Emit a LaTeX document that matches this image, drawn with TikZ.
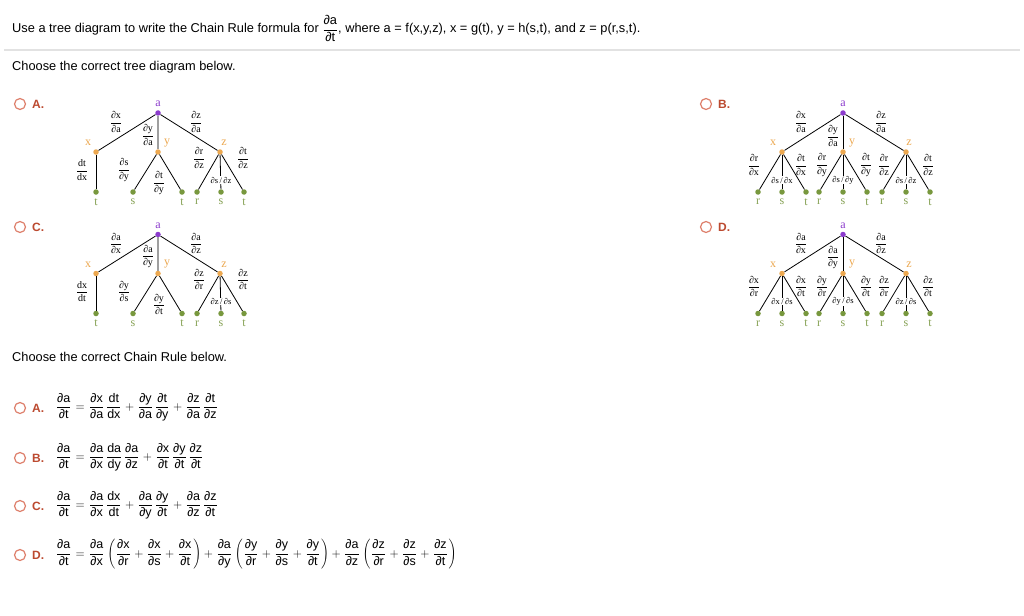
\documentclass[tikz,border=0pt]{standalone}
\usepackage{fontspec}
\setmainfont{Liberation Sans}
\newfontfamily\treefont{Liberation Serif}
\usetikzlibrary{positioning}

\definecolor{rootpurple}{RGB}{140,60,205}
\definecolor{midorange}{RGB}{236,168,80}
\definecolor{leafgreen}{RGB}{120,152,62}
\definecolor{leafolive}{RGB}{135,162,85}
\definecolor{radiored}{RGB}{222,128,108}
\definecolor{letterred}{RGB}{188,74,48}
\definecolor{rulegray}{RGB}{226,226,226}

% partial fraction with text glyphs
\newcommand{\pd}[2]{\frac{\hbox{#1}}{\hbox{#2}}}
\newcommand{\tpd}[2]{$\displaystyle\frac{\hbox{#1}}{\hbox{#2}}$}

\tikzset{
  vdot/.style={circle, inner sep=0pt, minimum size=5.5pt},
  rootdot/.style={vdot, fill=rootpurple},
  middot/.style={vdot, fill=midorange},
  leafdot/.style={vdot, fill=leafgreen},
  twig/.style={draw=black, line width=0.8pt},
  trunk/.style={draw=gray!75, line width=1.8pt},
  vlabel/.style={font=\treefont\fontsize{12}{13}\selectfont, inner sep=0pt},
  elabel/.style={font=\treefont\fontsize{10}{11}\selectfont, inner sep=0.5pt},
  ilabel/.style={font=\treefont\fontsize{8.5}{9}\selectfont, inner sep=0.5pt, fill=white},
  radio/.style={circle, draw=radiored, line width=1.2pt, minimum size=11pt, inner sep=0pt},
  choice/.style={font=\bfseries\fontsize{12}{12}\selectfont, text=letterred, anchor=west, inner sep=0pt},
  question/.style={font=\fontsize{12.8}{14}\selectfont, anchor=west, inner sep=0pt},
  formula/.style={font={\fontsize{12.5}{13}\selectfont\nulldelimiterspace=2pt\relax}, anchor=west, inner sep=0pt},
}

% skeleton of trees A and C
\newcommand{\lefttree}{%
  \node[rootdot] (a) at (158,113) {};
  \node[middot] (x) at (96,152) {};
  \node[middot] (y) at (158,152) {};
  \node[middot] (z) at (220,152) {};
  \node[leafdot] (xt) at (96,192) {};
  \node[leafdot] (ys) at (133,192) {};
  \node[leafdot] (yt) at (182,192) {};
  \node[leafdot] (zr) at (197,192) {};
  \node[leafdot] (zs) at (221,192) {};
  \node[leafdot] (zt) at (244,192) {};
  \draw[twig] (a) -- (x);
  \draw[trunk] (a) -- (y);
  \draw[twig] (a) -- (z);
  \draw[twig] (x) -- (xt);
  \draw[twig] (y) -- (ys) (y) -- (yt);
  \draw[twig] (z) -- (zr) (z) -- (zs) (z) -- (zt);
  \node[vlabel, text=rootpurple] (a-lab) at (158,104) {a};
  \node[vlabel, text=midorange] (x-lab) at (88,143) {x};
  \node[vlabel, text=midorange] (y-lab) at (167,143) {y};
  \node[vlabel, text=midorange] (z-lab) at (224,143) {z};
  \foreach \f/\fx [count=\i] in {t/96, s/133, t/182, r/197, s/221, t/244}
    \node[vlabel, text=leafolive] (leaf\i) at (\fx,202) {\f};
}

% skeleton of trees B and D
\newcommand{\righttree}{%
  \node[rootdot] (a) at (843,113) {};
  \node[vlabel, text=rootpurple] (a-lab) at (843,104) {a};
  \foreach \m/\mx/\lx in {x/782/773, y/843/852, z/906/909} {
    \node[middot] (\m) at (\mx,152) {};
    \node[vlabel, text=midorange] (\m-lab) at (\lx,143) {\m};
    \draw[twig] (a) -- (\m);
    \foreach \f/\dx in {r/-24, s/0, t/24} {
      \node[leafdot] (\m\f) at ({\mx+\dx},192) {};
      \node[vlabel, text=leafolive] (\m\f-lab) at ({\mx+\dx},202) {\f};
      \draw[twig] (\m) -- (\m\f);
    }
  }
}

\begin{document}
\begin{tikzpicture}[x=1pt, y=-1pt]
  \fill[white] (0,0) rectangle (1024,615);
  \useasboundingbox (0,0) rectangle (1024,615);

  \node[question, anchor=base west] (ask) at (12,33) {Use a tree diagram to write the Chain Rule formula for $\displaystyle\pd{∂a}{∂t}$, where a = f(x,y,z), x = g(t), y = h(s,t), and z = p(r,s,t).};
  \draw[rulegray, line width=1.5pt] (4,50) -- (1020,50);
  \node[question] (pick1) at (12,67) {Choose the correct tree diagram below.};

  % answer marks for the trees
  \node[radio] (ra) at (20,104) {};
  \node[choice] (la) at (32,104) {A.};
  \node[radio] (rb) at (706,104) {};
  \node[choice] (lb) at (718,104) {B.};
  \node[radio] (rc) at (20,227) {};
  \node[choice] (lc) at (32,227) {C.};
  \node[radio] (rd) at (706,227) {};
  \node[choice] (ld) at (718,227) {D.};

  % tree A
  \begin{scope}[name prefix=A-]
    \lefttree
    \node[elabel] (xa) at (116,122) {\tpd{∂x}{∂a}};
    \node[elabel] (ya) at (148,135) {\tpd{∂y}{∂a}};
    \node[elabel] (za) at (196,122) {\tpd{∂z}{∂a}};
    \node[elabel] (tx) at (82,170) {\tpd{dt}{dx}};
    \node[elabel] (sy) at (124,170) {\tpd{∂s}{∂y}};
    \node[elabel] (ty) at (159,183) {\tpd{∂t}{∂y}};
    \node[elabel] (rz) at (199,158) {\tpd{∂r}{∂z}};
    \node[ilabel] (sz) at (221,180) {∂s\,/\,∂z};
    \node[elabel] (tz) at (243,158) {\tpd{∂t}{∂z}};
  \end{scope}

  % tree B
  \begin{scope}[name prefix=B-]
    \righttree
    \node[elabel] (xa) at (801,122) {\tpd{∂x}{∂a}};
    \node[elabel] (ya) at (833,136) {\tpd{∂y}{∂a}};
    \node[elabel] (za) at (881,122) {\tpd{∂z}{∂a}};
    \node[elabel] (rx) at (754,165) {\tpd{∂r}{∂x}};
    \node[ilabel] (sx) at (782,180) {∂s\,/\,∂x};
    \node[elabel] (tx) at (801,165) {\tpd{∂t}{∂x}};
    \node[elabel] (ry) at (822,165) {\tpd{∂r}{∂y}};
    \node[ilabel] (sy) at (843,180) {∂s\,/\,∂y};
    \node[elabel] (ty) at (866,165) {\tpd{∂t}{∂y}};
    \node[elabel] (rz) at (884,165) {\tpd{∂r}{∂z}};
    \node[ilabel] (sz) at (906,180) {∂s\,/\,∂z};
    \node[elabel] (tz) at (928,165) {\tpd{∂t}{∂z}};
  \end{scope}

  % tree C
  \begin{scope}[shift={(0,121.5)}, name prefix=C-]
    \lefttree
    \node[elabel] (ax) at (116,122) {\tpd{∂a}{∂x}};
    \node[elabel] (ay) at (148,135) {\tpd{∂a}{∂y}};
    \node[elabel] (az) at (196,122) {\tpd{∂a}{∂z}};
    \node[elabel] (xt) at (82,170) {\tpd{dx}{dt}};
    \node[elabel] (ys) at (124,170) {\tpd{∂y}{∂s}};
    \node[elabel] (yt) at (159,183) {\tpd{∂y}{∂t}};
    \node[elabel] (zr) at (199,158) {\tpd{∂z}{∂r}};
    \node[ilabel] (zs) at (221,180) {∂z\,/\,∂s};
    \node[elabel] (zt) at (243,158) {\tpd{∂z}{∂t}};
  \end{scope}

  % tree D
  \begin{scope}[shift={(0,121.5)}, name prefix=D-]
    \righttree
    \node[elabel] (ax) at (801,122) {\tpd{∂a}{∂x}};
    \node[elabel] (ay) at (833,136) {\tpd{∂a}{∂y}};
    \node[elabel] (az) at (881,122) {\tpd{∂a}{∂z}};
    \node[elabel] (xr) at (754,165) {\tpd{∂x}{∂r}};
    \node[ilabel] (xs) at (782,180) {∂x\,/\,∂s};
    \node[elabel] (xt) at (801,165) {\tpd{∂x}{∂t}};
    \node[elabel] (yr) at (822,165) {\tpd{∂y}{∂r}};
    \node[ilabel] (ys) at (843,180) {∂y\,/\,∂s};
    \node[elabel] (yt) at (866,165) {\tpd{∂y}{∂t}};
    \node[elabel] (zr) at (884,165) {\tpd{∂z}{∂r}};
    \node[ilabel] (zs) at (906,180) {∂z\,/\,∂s};
    \node[elabel] (zt) at (928,165) {\tpd{∂z}{∂t}};
  \end{scope}

  \node[question] (pick2) at (12,357) {Choose the correct Chain Rule below.};

  % answer marks for the formulas
  \node[radio] (rfa) at (20,408) {};
  \node[choice] (lfa) at (32,408) {A.};
  \node[formula] (fa) at (55,407) {$\displaystyle \pd{∂a}{∂t} = \pd{∂x}{∂a}\pd{dt}{dx} + \pd{∂y}{∂a}\pd{∂t}{∂y} + \pd{∂z}{∂a}\pd{∂t}{∂z}$};
  \node[radio] (rfb) at (20,458) {};
  \node[choice] (lfb) at (32,458) {B.};
  \node[formula] (fb) at (55,457) {$\displaystyle \pd{∂a}{∂t} = \pd{∂a}{∂x}\pd{da}{dy}\pd{∂a}{∂z} + \pd{∂x}{∂t}\pd{∂y}{∂t}\pd{∂z}{∂t}$};
  \node[radio] (rfc) at (20,506) {};
  \node[choice] (lfc) at (32,506) {C.};
  \node[formula] (fc) at (55,505) {$\displaystyle \pd{∂a}{∂t} = \pd{∂a}{∂x}\pd{dx}{dt} + \pd{∂a}{∂y}\pd{∂y}{∂t} + \pd{∂a}{∂z}\pd{∂z}{∂t}$};
  \node[radio] (rfd) at (20,555) {};
  \node[choice] (lfd) at (32,555) {D.};
  \node[formula] (fd) at (55,554) {$\displaystyle \pd{∂a}{∂t} = \pd{∂a}{∂x}\left(\pd{∂x}{∂r} + \pd{∂x}{∂s} + \pd{∂x}{∂t}\right) + \pd{∂a}{∂y}\left(\pd{∂y}{∂r} + \pd{∂y}{∂s} + \pd{∂y}{∂t}\right) + \pd{∂a}{∂z}\left(\pd{∂z}{∂r} + \pd{∂z}{∂s} + \pd{∂z}{∂t}\right)$};
\end{tikzpicture}
\end{document}
